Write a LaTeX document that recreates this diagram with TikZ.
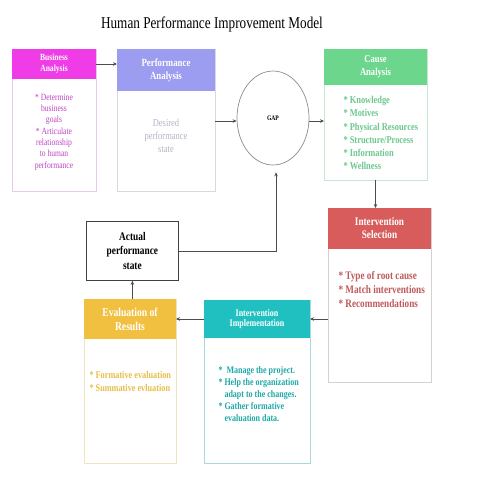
\documentclass[tikz,border=0pt]{standalone}
\usepackage{fontspec}
\setmainfont{Liberation Serif}[FakeStretch=0.8]
\usepackage{tikz}
\usetikzlibrary{calc}
\usetikzlibrary{arrows.meta}
\usetikzlibrary{shapes.geometric}
\newcommand\fsz[2]{\fontsize{#1}{#2}\selectfont}

\definecolor{bizpink}{HTML}{F03CE6}
\definecolor{bizline}{HTML}{EEC8EC}
\definecolor{biztext}{HTML}{C044C4}
\definecolor{perfblue}{HTML}{9C9CF0}
\definecolor{perfline}{HTML}{D8D8E0}
\definecolor{perftext}{HTML}{B4B4C4}
\definecolor{causegreen}{HTML}{6CD68C}
\definecolor{causeline}{HTML}{C8E8D0}
\definecolor{causetext}{HTML}{6CC890}
\definecolor{selred}{HTML}{D85C5C}
\definecolor{selline}{HTML}{D8D0D0}
\definecolor{seltext}{HTML}{C05A5A}
\definecolor{implteal}{HTML}{20C0C0}
\definecolor{implline}{HTML}{A8D8D8}
\definecolor{impltext}{HTML}{20A8A8}
\definecolor{evalgold}{HTML}{F2C040}
\definecolor{evalline}{HTML}{F0E4C0}
\definecolor{evaltext}{HTML}{E8BE48}

\begin{document}
\begin{tikzpicture}[x=1pt,y=-1pt,
  headbox/.style={fill=#1,draw=none,text=white,font=\bfseries,align=center,inner sep=0,outer sep=0,anchor=north west},
  framebox/.style={draw=#1,fill=white,line width=0.8pt,inner sep=0,outer sep=0,anchor=north west},
  link/.style={draw=black!70,line width=0.8pt,-{Stealth[length=4pt,width=3.5pt]}}]

\useasboundingbox[fill=white] (0,0) rectangle (480,480);

\node[font=\fsz{16.5}{20}] (title) at (212,24) {Human Performance Improvement Model};

\node[framebox=bizline, minimum width=84pt, minimum height=142pt] (biz) at (12,49) {};
\node[headbox=bizpink, minimum width=84pt, minimum height=30pt, font=\bfseries\fsz{9.5}{11}] (bizh) at (12,49) {Business\\Analysis};
\node[text=biztext, align=center, font=\fsz{9.5}{11.3}] (biztxt) at (54,132) {{*} Determine\\business\\goals\\{*} Articulate\\relationship\\to human\\performance};

\node[framebox=perfline, minimum width=98pt, minimum height=142pt] (perf) at (117,49) {};
\node[headbox=perfblue, minimum width=98pt, minimum height=42pt, font=\bfseries\fsz{11}{13}] (perfh) at (117,49) {Performance\\Analysis};
\node[text=perftext, align=center, font=\fsz{10.6}{13}] (perftxt) at (166,136) {Desired\\performance\\state};

\node[ellipse, draw=black!45, line width=0.7pt, minimum width=72pt, minimum height=94pt, inner sep=0, font=\bfseries\fsz{7}{8}] (gap) at (273,118) {GAP};

\node[framebox=causeline, minimum width=103pt, minimum height=131pt] (cause) at (324,49) {};
\node[headbox=causegreen, minimum width=103pt, minimum height=36pt, font=\bfseries\fsz{10.7}{13}] (causeh) at (324,49) {Cause\\Analysis};
\node[text=causetext, align=left, anchor=west, font=\bfseries\fsz{10.5}{13.1}] (causetxt) at (340,133) {{*} Knowledge\\{*} Motives\\{*} Physical Resources\\{*} Structure/Process\\{*} Information\\{*} Wellness};

\node[framebox=selline, minimum width=103pt, minimum height=174pt] (sel) at (328,208) {};
\node[headbox=selred, minimum width=103pt, minimum height=41pt, font=\bfseries\fsz{11.5}{13}] (selh) at (328,208) {Intervention\\Selection};
\node[text=seltext, align=left, anchor=west, font=\bfseries\fsz{11.5}{14}] (seltxt) at (335,290) {{*} Type of root cause\\{*} Match interventions\\{*} Recommendations};

\node[framebox=implline, minimum width=106pt, minimum height=163pt] (impl) at (204,300) {};
\node[headbox=implteal, minimum width=106pt, minimum height=38pt, font=\bfseries\fsz{10}{10.8}] (implh) at (204,300) {Intervention\\Implementation};
\node[text=impltext, align=left, anchor=west, font=\bfseries\fsz{10}{12}] (impltxt) at (215,394) {{*}\ \ Manage the project.\\{*} Help the organization\\\phantom{*} adapt to the changes.\\{*} Gather formative\\\phantom{*} evaluation data.};

\node[framebox=evalline, minimum width=92pt, minimum height=164pt] (eval) at (84,299) {};
\node[headbox=evalgold, minimum width=92pt, minimum height=40pt, font=\bfseries\fsz{12}{14}] (evalh) at (84,299) {Evaluation of\\Results};
\node[text=evaltext, align=left, anchor=west, font=\bfseries\fsz{10.3}{13}] (evaltxt) at (86,381.5) {{*} Formative evaluation\\{*} Summative evluation};

\node[draw=black!75, line width=0.8pt, minimum width=92pt, minimum height=59pt, inner sep=0, anchor=north west, align=center, font=\bfseries\fsz{11.7}{14.5}] (act) at (86,221) {Actual\\performance\\state};

\draw[link] (bizh.east) -- (bizh.east -| perf.west);
\draw[link] ([yshift=-3pt]gap.west -| perf.east) -- ([yshift=-3pt]gap.west);
\draw[link] ([yshift=-3pt]gap.east) -- ([yshift=-3pt]gap.east -| cause.west);
\draw[link] (cause.south) -- (cause.south |- sel.north);
\draw[link] (implh.east -| sel.west) -- (implh.east);
\draw[link] (implh.west) -- (implh.west -| eval.east);
\draw[link] (act.south |- eval.north) -- (act.south);
\draw[link] (act.east) -| ($(gap.south)+(3,7)$);

\end{tikzpicture}
\end{document}
